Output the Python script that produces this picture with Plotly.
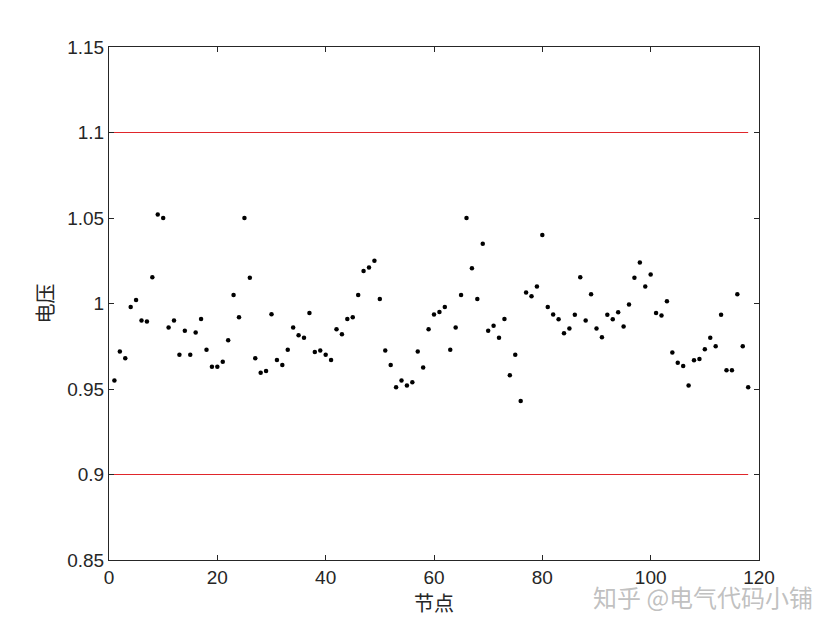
import plotly.graph_objects as go

node = list(range(1, 119))
voltage = [
    0.955, 0.972, 0.968, 0.998, 1.002, 0.990, 0.9895, 1.0154, 1.052, 1.050,
    0.986, 0.990, 0.970, 0.984, 0.970, 0.983, 0.991, 0.973, 0.963, 0.963,
    0.966, 0.9785, 1.005, 0.992, 1.050, 1.015, 0.968, 0.9595, 0.9605, 0.9937,
    0.967, 0.964, 0.973, 0.986, 0.9815, 0.980, 0.9945, 0.9717, 0.9725, 0.970,
    0.967, 0.985, 0.982, 0.991, 0.992, 1.005, 1.019, 1.021, 1.025, 1.0027,
    0.9725, 0.964, 0.951, 0.955, 0.952, 0.954, 0.972, 0.9626, 0.985, 0.9936,
    0.995, 0.998, 0.973, 0.986, 1.005, 1.050, 1.0206, 1.0027, 1.035, 0.984,
    0.987, 0.980, 0.991, 0.958, 0.970, 0.943, 1.0064, 1.0043, 1.010, 1.040,
    0.998, 0.9936, 0.9908, 0.9826, 0.9854, 0.9934, 1.0154, 0.990, 1.0054, 0.9854,
    0.9803, 0.9934, 0.9908, 0.9949, 0.9865, 0.9994, 1.015, 1.024, 1.010, 1.017,
    0.9945, 0.993, 1.0013, 0.9713, 0.9653, 0.9635, 0.952, 0.9668, 0.9676, 0.9733,
    0.980, 0.975, 0.9934, 0.961, 0.961, 1.0054, 0.975, 0.951,
]
limit_x = [0, 118]
upper_limit = [1.1, 1.1]
lower_limit = [0.9, 0.9]

x_ticks = [0, 20, 40, 60, 80, 100, 120]
y_ticks = [0.85, 0.9, 0.95, 1.0, 1.05, 1.1, 1.15]
y_tick_text = ["0.85", "0.9", "0.95", "1", "1.05", "1.1", "1.15"]

fig = go.Figure()
fig.add_trace(go.Scatter(x=limit_x, y=upper_limit, mode="lines",
                         line=dict(color="#e0262b", width=1), showlegend=False))
fig.add_trace(go.Scatter(x=limit_x, y=lower_limit, mode="lines",
                         line=dict(color="#e0262b", width=1), showlegend=False))
fig.add_trace(go.Scatter(x=node, y=voltage, mode="markers",
                         marker=dict(color="black", size=4.5), showlegend=False))

axis_common = dict(
    showgrid=False, zeroline=False, showline=True, linecolor="#262626",
    linewidth=1, mirror="ticks", ticks="inside", ticklen=5, tickcolor="#262626",
    tickfont=dict(family="Liberation Sans, Arial", size=19, color="#262626"),
)
fig.update_xaxes(range=[0, 120], tickvals=x_ticks, **axis_common,
                 title=dict(text="节点", font=dict(family="Noto Sans CJK SC", size=20, color="#262626"),
                            standoff=10))
fig.update_yaxes(range=[0.85, 1.15], tickvals=y_ticks, ticktext=y_tick_text, **axis_common,
                 title=dict(text="电压", font=dict(family="Noto Sans CJK SC", size=20, color="#262626"),
                            standoff=8))

fig.add_annotation(text="知乎 @电气代码小铺", xref="paper", yref="paper",
                   x=0.7415, y=-0.072, xanchor="left", yanchor="middle", showarrow=False,
                   font=dict(family="Noto Sans CJK SC", size=24, color="rgba(185,185,185,0.9)"))

fig.update_layout(width=832, height=622, plot_bgcolor="white", paper_bgcolor="white",
                  margin=dict(l=101, r=81, t=39, b=70))
fig.write_html("out.html")
